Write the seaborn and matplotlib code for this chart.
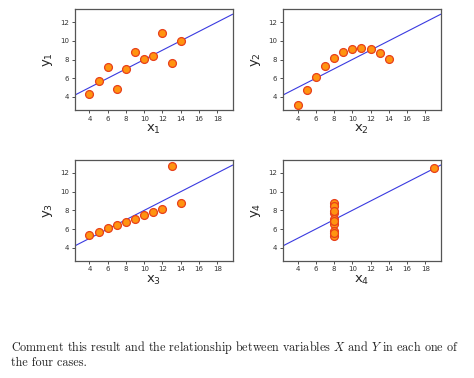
import numpy as np
import pandas as pd
import matplotlib
matplotlib.use('Agg')
import matplotlib.pyplot as plt
import seaborn as sns

# Anscombe's quartet
x123 = [10, 8, 13, 9, 11, 14, 6, 4, 12, 7, 5]
x4 = [8, 8, 8, 8, 8, 8, 8, 19, 8, 8, 8]
y1 = [8.04, 6.95, 7.58, 8.81, 8.33, 9.96, 7.24, 4.26, 10.84, 4.82, 5.68]
y2 = [9.14, 8.14, 8.74, 8.77, 9.26, 8.10, 6.13, 3.10, 9.13, 7.26, 4.74]
y3 = [7.46, 6.77, 12.74, 7.11, 7.81, 8.84, 6.08, 5.39, 8.15, 6.42, 5.73]
y4 = [6.58, 5.76, 7.71, 8.84, 8.47, 7.04, 5.25, 12.50, 5.56, 7.91, 6.89]

sets = [(x123, y1), (x123, y2), (x123, y3), (x4, y4)]
xticks = [4, 6, 8, 10, 12, 14, 16, 18]
yticks = [4, 6, 8, 10, 12]

sns.set_style('ticks')
plt.rcParams['mathtext.fontset'] = 'cm'

fig = plt.figure(figsize=(4.74, 3.78), dpi=100)
pos = [(0.158, 0.709), (0.597, 0.709), (0.158, 0.310), (0.597, 0.310)]

for i, (xs, ys) in enumerate(sets):
    ax = fig.add_axes([pos[i][0], pos[i][1], 0.333, 0.267])
    df = pd.DataFrame({'x': xs, 'y': ys})
    m, b = np.polyfit(df.x, df.y, 1)
    ax.axline((0, b), slope=m, color='#3a3ae0', lw=0.8, zorder=1)
    sns.scatterplot(data=df, x='x', y='y', ax=ax, s=32, color='#ff9410',
                    edgecolor='#e8401a', linewidth=0.9, zorder=3)
    ax.set_xlim(2.4, 19.7)
    ax.set_ylim(2.6, 13.4)
    ax.set_xticks(xticks)
    ax.set_yticks(yticks)
    ax.tick_params(labelsize=5, length=2, width=0.6, pad=2, colors='#333333')
    for sp in ax.spines.values():
        sp.set_visible(True)
        sp.set_color('#555555')
        sp.set_linewidth(0.9)
    ax.set_xlabel('$\\mathregular{x_%d}$' % (i + 1), fontsize=9.5, labelpad=1)
    ax.set_ylabel('$\\mathregular{y_%d}$' % (i + 1), fontsize=9.5, labelpad=4)

fig.text(0.023, 0.072,
         'Comment this result and the relationship between variables $X$ and $Y$ in each one of',
         fontsize=8.75, family='cmr10', color='#222222')
fig.text(0.023, 0.032, 'the four cases.', fontsize=8.75, family='cmr10', color='#222222')

fig.savefig('out.png', dpi=100)
